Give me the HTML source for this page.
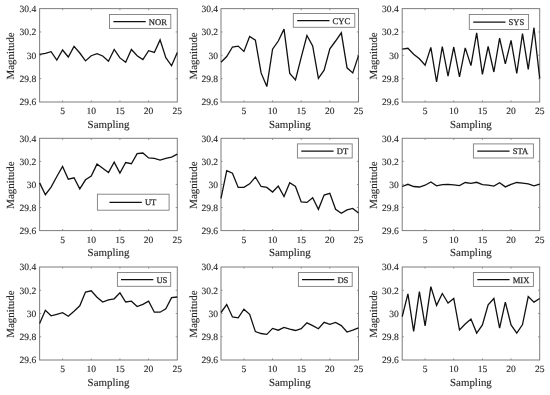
<!DOCTYPE html>
<html><head><meta charset="utf-8"><title>Control chart patterns</title>
<style>html,body{margin:0;padding:0;background:#fff}body{width:550px;height:395px;overflow:hidden}</style>
</head><body>
<svg width="550" height="395" viewBox="0 0 550 395" style="display:block">
<rect width="550" height="395" fill="#fff"/>
<g font-family="'Liberation Serif', 'Times New Roman', serif" fill="#2a2a2a" stroke="#2a2a2a" stroke-width="0.13" text-rendering="geometricPrecision">
<rect x="39.62" y="8.62" width="137.68" height="93.38" fill="none" stroke="#7d7d7d" stroke-width="1"/>
<text x="36.22" y="11.92" font-size="9.55" text-anchor="end">30.4</text>
<text x="36.22" y="35.26" font-size="9.55" text-anchor="end">30.2</text>
<text x="36.22" y="58.61" font-size="9.55" text-anchor="end">30</text>
<text x="36.22" y="81.95" font-size="9.55" text-anchor="end">29.8</text>
<text x="36.22" y="105.30" font-size="9.55" text-anchor="end">29.6</text>
<text x="62.57" y="114.40" font-size="9.55" text-anchor="middle">5</text>
<text x="91.25" y="114.40" font-size="9.55" text-anchor="middle">10</text>
<text x="119.93" y="114.40" font-size="9.55" text-anchor="middle">15</text>
<text x="148.62" y="114.40" font-size="9.55" text-anchor="middle">20</text>
<text x="177.30" y="114.40" font-size="9.55" text-anchor="middle">25</text>
<path d="M39.62 31.96h1.6M177.30 31.96h-1.6M39.62 55.31h1.6M177.30 55.31h-1.6M39.62 78.66h1.6M177.30 78.66h-1.6M62.57 102.00v-1.6M62.57 8.62v1.6M91.25 102.00v-1.6M91.25 8.62v1.6M119.93 102.00v-1.6M119.93 8.62v1.6M148.62 102.00v-1.6M148.62 8.62v1.6" stroke="#7d7d7d" stroke-width="0.8" fill="none"/>
<text x="108.46" y="127.60" font-size="10.9" text-anchor="middle">Sampling</text>
<text transform="translate(13.92 55.91) rotate(-90)" font-size="10.9" text-anchor="middle">Magnitude</text>
<polyline points="39.62,54.30 45.36,53.40 51.09,51.70 56.83,60.00 62.57,50.00 68.30,57.00 74.04,46.40 79.78,53.00 85.51,60.90 91.25,55.70 96.99,53.70 102.72,56.00 108.46,61.30 114.20,49.50 119.93,57.90 125.67,62.20 131.41,49.50 137.14,55.70 142.88,59.60 148.62,50.70 154.35,52.40 160.09,39.90 165.83,57.60 171.56,65.80 177.30,52.60" fill="none" stroke="#111" stroke-width="1.3" stroke-linejoin="miter" stroke-miterlimit="3"/>
<rect x="109.50" y="14.50" width="61.30" height="13.90" fill="#fff" stroke="#7d7d7d" stroke-width="0.9"/>
<path d="M113.40 21.65h32.3" stroke="#111" stroke-width="1.25"/>
<text x="148.80" y="24.55" font-size="8.6" stroke="#2a2a2a" stroke-width="0.25">NOR</text>
<rect x="221.00" y="8.62" width="137.50" height="93.38" fill="none" stroke="#7d7d7d" stroke-width="1"/>
<text x="218.10" y="11.92" font-size="9.55" text-anchor="end">30.4</text>
<text x="218.10" y="35.26" font-size="9.55" text-anchor="end">30.2</text>
<text x="218.10" y="58.61" font-size="9.55" text-anchor="end">30</text>
<text x="218.10" y="81.95" font-size="9.55" text-anchor="end">29.8</text>
<text x="218.10" y="105.30" font-size="9.55" text-anchor="end">29.6</text>
<text x="243.92" y="114.40" font-size="9.55" text-anchor="middle">5</text>
<text x="272.56" y="114.40" font-size="9.55" text-anchor="middle">10</text>
<text x="301.21" y="114.40" font-size="9.55" text-anchor="middle">15</text>
<text x="329.85" y="114.40" font-size="9.55" text-anchor="middle">20</text>
<text x="358.50" y="114.40" font-size="9.55" text-anchor="middle">25</text>
<path d="M221.00 31.96h1.6M358.50 31.96h-1.6M221.00 55.31h1.6M358.50 55.31h-1.6M221.00 78.66h1.6M358.50 78.66h-1.6M243.92 102.00v-1.6M243.92 8.62v1.6M272.56 102.00v-1.6M272.56 8.62v1.6M301.21 102.00v-1.6M301.21 8.62v1.6M329.85 102.00v-1.6M329.85 8.62v1.6" stroke="#7d7d7d" stroke-width="0.8" fill="none"/>
<text x="289.75" y="127.60" font-size="10.9" text-anchor="middle">Sampling</text>
<text transform="translate(196.50 55.91) rotate(-90)" font-size="10.9" text-anchor="middle">Magnitude</text>
<polyline points="221.00,62.30 226.73,56.50 232.46,47.00 238.19,46.10 243.92,51.40 249.65,36.40 255.38,40.10 261.10,72.90 266.83,86.60 272.56,49.20 278.29,41.00 284.02,29.10 289.75,73.40 295.48,79.90 301.21,57.40 306.94,35.50 312.67,45.90 318.40,78.40 324.12,70.20 329.85,48.80 335.58,41.00 341.31,32.80 347.04,67.80 352.77,72.90 358.50,55.60" fill="none" stroke="#111" stroke-width="1.3" stroke-linejoin="miter" stroke-miterlimit="3"/>
<rect x="293.30" y="13.50" width="61.50" height="13.80" fill="#fff" stroke="#7d7d7d" stroke-width="0.9"/>
<path d="M297.20 20.60h32.3" stroke="#111" stroke-width="1.25"/>
<text x="332.60" y="23.50" font-size="8.6" stroke="#2a2a2a" stroke-width="0.25">CYC</text>
<rect x="402.20" y="8.62" width="137.50" height="93.38" fill="none" stroke="#7d7d7d" stroke-width="1"/>
<text x="398.80" y="11.92" font-size="9.55" text-anchor="end">30.4</text>
<text x="398.80" y="35.26" font-size="9.55" text-anchor="end">30.2</text>
<text x="398.80" y="58.61" font-size="9.55" text-anchor="end">30</text>
<text x="398.80" y="81.95" font-size="9.55" text-anchor="end">29.8</text>
<text x="398.80" y="105.30" font-size="9.55" text-anchor="end">29.6</text>
<text x="425.12" y="114.40" font-size="9.55" text-anchor="middle">5</text>
<text x="453.76" y="114.40" font-size="9.55" text-anchor="middle">10</text>
<text x="482.41" y="114.40" font-size="9.55" text-anchor="middle">15</text>
<text x="511.05" y="114.40" font-size="9.55" text-anchor="middle">20</text>
<text x="539.70" y="114.40" font-size="9.55" text-anchor="middle">25</text>
<path d="M402.20 31.96h1.6M539.70 31.96h-1.6M402.20 55.31h1.6M539.70 55.31h-1.6M402.20 78.66h1.6M539.70 78.66h-1.6M425.12 102.00v-1.6M425.12 8.62v1.6M453.76 102.00v-1.6M453.76 8.62v1.6M482.41 102.00v-1.6M482.41 8.62v1.6M511.05 102.00v-1.6M511.05 8.62v1.6" stroke="#7d7d7d" stroke-width="0.8" fill="none"/>
<text x="470.95" y="127.60" font-size="10.9" text-anchor="middle">Sampling</text>
<text transform="translate(376.50 55.91) rotate(-90)" font-size="10.9" text-anchor="middle">Magnitude</text>
<polyline points="402.20,49.20 407.93,48.30 413.66,54.30 419.39,58.70 425.12,65.30 430.85,47.40 436.57,82.00 442.30,46.50 448.03,76.20 453.76,47.00 459.49,76.90 465.22,47.90 470.95,65.60 476.68,32.80 482.41,74.40 488.14,46.50 493.87,72.00 499.60,38.20 505.33,63.80 511.05,40.40 516.78,73.50 522.51,33.70 528.24,69.30 533.97,27.70 539.70,78.40" fill="none" stroke="#111" stroke-width="1.3" stroke-linejoin="miter" stroke-miterlimit="3"/>
<rect x="469.30" y="14.50" width="59.30" height="15.00" fill="#fff" stroke="#7d7d7d" stroke-width="0.9"/>
<path d="M473.20 22.20h32.3" stroke="#111" stroke-width="1.25"/>
<text x="508.60" y="25.10" font-size="8.6" stroke="#2a2a2a" stroke-width="0.25">SYS</text>
<rect x="39.62" y="138.30" width="137.68" height="92.30" fill="none" stroke="#7d7d7d" stroke-width="1"/>
<text x="36.22" y="141.60" font-size="9.55" text-anchor="end">30.4</text>
<text x="36.22" y="164.68" font-size="9.55" text-anchor="end">30.2</text>
<text x="36.22" y="187.75" font-size="9.55" text-anchor="end">30</text>
<text x="36.22" y="210.83" font-size="9.55" text-anchor="end">29.8</text>
<text x="36.22" y="233.90" font-size="9.55" text-anchor="end">29.6</text>
<text x="62.57" y="243.00" font-size="9.55" text-anchor="middle">5</text>
<text x="91.25" y="243.00" font-size="9.55" text-anchor="middle">10</text>
<text x="119.93" y="243.00" font-size="9.55" text-anchor="middle">15</text>
<text x="148.62" y="243.00" font-size="9.55" text-anchor="middle">20</text>
<text x="177.30" y="243.00" font-size="9.55" text-anchor="middle">25</text>
<path d="M39.62 161.38h1.6M177.30 161.38h-1.6M39.62 184.45h1.6M177.30 184.45h-1.6M39.62 207.53h1.6M177.30 207.53h-1.6M62.57 230.60v-1.6M62.57 138.30v1.6M91.25 230.60v-1.6M91.25 138.30v1.6M119.93 230.60v-1.6M119.93 138.30v1.6M148.62 230.60v-1.6M148.62 138.30v1.6" stroke="#7d7d7d" stroke-width="0.8" fill="none"/>
<text x="108.46" y="256.20" font-size="10.9" text-anchor="middle">Sampling</text>
<text transform="translate(13.92 185.05) rotate(-90)" font-size="10.9" text-anchor="middle">Magnitude</text>
<polyline points="39.62,182.90 45.36,194.70 51.09,187.10 56.83,176.50 62.57,166.50 68.30,179.20 74.04,177.80 79.78,188.90 85.51,179.80 91.25,176.10 96.99,164.10 102.72,168.30 108.46,172.50 114.20,162.10 119.93,173.00 125.67,162.50 131.41,163.70 137.14,153.70 142.88,153.00 148.62,157.90 154.35,158.40 160.09,160.10 165.83,158.30 171.56,157.20 177.30,154.20" fill="none" stroke="#111" stroke-width="1.3" stroke-linejoin="miter" stroke-miterlimit="3"/>
<rect x="97.40" y="194.20" width="71.70" height="16.00" fill="#fff" stroke="#7d7d7d" stroke-width="0.9"/>
<path d="M109.50 202.40h32.3" stroke="#111" stroke-width="1.25"/>
<text x="144.90" y="205.30" font-size="8.6" stroke="#2a2a2a" stroke-width="0.25">UT</text>
<rect x="221.00" y="138.30" width="137.50" height="92.30" fill="none" stroke="#7d7d7d" stroke-width="1"/>
<text x="218.10" y="141.60" font-size="9.55" text-anchor="end">30.4</text>
<text x="218.10" y="164.68" font-size="9.55" text-anchor="end">30.2</text>
<text x="218.10" y="187.75" font-size="9.55" text-anchor="end">30</text>
<text x="218.10" y="210.83" font-size="9.55" text-anchor="end">29.8</text>
<text x="218.10" y="233.90" font-size="9.55" text-anchor="end">29.6</text>
<text x="243.92" y="243.00" font-size="9.55" text-anchor="middle">5</text>
<text x="272.56" y="243.00" font-size="9.55" text-anchor="middle">10</text>
<text x="301.21" y="243.00" font-size="9.55" text-anchor="middle">15</text>
<text x="329.85" y="243.00" font-size="9.55" text-anchor="middle">20</text>
<text x="358.50" y="243.00" font-size="9.55" text-anchor="middle">25</text>
<path d="M221.00 161.38h1.6M358.50 161.38h-1.6M221.00 184.45h1.6M358.50 184.45h-1.6M221.00 207.53h1.6M358.50 207.53h-1.6M243.92 230.60v-1.6M243.92 138.30v1.6M272.56 230.60v-1.6M272.56 138.30v1.6M301.21 230.60v-1.6M301.21 138.30v1.6M329.85 230.60v-1.6M329.85 138.30v1.6" stroke="#7d7d7d" stroke-width="0.8" fill="none"/>
<text x="289.75" y="256.20" font-size="10.9" text-anchor="middle">Sampling</text>
<text transform="translate(196.50 185.05) rotate(-90)" font-size="10.9" text-anchor="middle">Magnitude</text>
<polyline points="221.00,198.40 226.73,170.60 232.46,173.20 238.19,187.40 243.92,187.40 249.65,183.80 255.38,177.00 261.10,186.50 266.83,187.40 272.56,192.00 278.29,186.10 284.02,196.50 289.75,182.80 295.48,186.50 301.21,202.00 306.94,202.40 312.67,197.80 318.40,209.30 324.12,195.10 329.85,193.40 335.58,209.30 341.31,213.30 347.04,209.90 352.77,208.40 358.50,213.00" fill="none" stroke="#111" stroke-width="1.3" stroke-linejoin="miter" stroke-miterlimit="3"/>
<rect x="297.40" y="143.90" width="54.80" height="14.10" fill="#fff" stroke="#7d7d7d" stroke-width="0.9"/>
<path d="M301.30 151.15h32.3" stroke="#111" stroke-width="1.25"/>
<text x="336.70" y="154.05" font-size="8.6" stroke="#2a2a2a" stroke-width="0.25">DT</text>
<rect x="402.20" y="138.30" width="137.50" height="92.30" fill="none" stroke="#7d7d7d" stroke-width="1"/>
<text x="398.80" y="141.60" font-size="9.55" text-anchor="end">30.4</text>
<text x="398.80" y="164.68" font-size="9.55" text-anchor="end">30.2</text>
<text x="398.80" y="187.75" font-size="9.55" text-anchor="end">30</text>
<text x="398.80" y="210.83" font-size="9.55" text-anchor="end">29.8</text>
<text x="398.80" y="233.90" font-size="9.55" text-anchor="end">29.6</text>
<text x="425.12" y="243.00" font-size="9.55" text-anchor="middle">5</text>
<text x="453.76" y="243.00" font-size="9.55" text-anchor="middle">10</text>
<text x="482.41" y="243.00" font-size="9.55" text-anchor="middle">15</text>
<text x="511.05" y="243.00" font-size="9.55" text-anchor="middle">20</text>
<text x="539.70" y="243.00" font-size="9.55" text-anchor="middle">25</text>
<path d="M402.20 161.38h1.6M539.70 161.38h-1.6M402.20 184.45h1.6M539.70 184.45h-1.6M402.20 207.53h1.6M539.70 207.53h-1.6M425.12 230.60v-1.6M425.12 138.30v1.6M453.76 230.60v-1.6M453.76 138.30v1.6M482.41 230.60v-1.6M482.41 138.30v1.6M511.05 230.60v-1.6M511.05 138.30v1.6" stroke="#7d7d7d" stroke-width="0.8" fill="none"/>
<text x="470.95" y="256.20" font-size="10.9" text-anchor="middle">Sampling</text>
<text transform="translate(376.50 185.05) rotate(-90)" font-size="10.9" text-anchor="middle">Magnitude</text>
<polyline points="402.20,186.50 407.93,184.30 413.66,186.50 419.39,187.00 425.12,185.20 430.85,181.90 436.57,185.90 442.30,184.70 448.03,184.30 453.76,184.90 459.49,185.60 465.22,182.50 470.95,183.40 476.68,182.30 482.41,184.70 488.14,185.20 493.87,186.10 499.60,182.80 505.33,186.90 511.05,184.30 516.78,182.50 522.51,183.20 528.24,183.90 533.97,185.90 539.70,184.10" fill="none" stroke="#111" stroke-width="1.3" stroke-linejoin="miter" stroke-miterlimit="3"/>
<rect x="473.40" y="143.90" width="60.00" height="14.10" fill="#fff" stroke="#7d7d7d" stroke-width="0.9"/>
<path d="M477.30 151.15h32.3" stroke="#111" stroke-width="1.25"/>
<text x="512.70" y="154.05" font-size="8.6" stroke="#2a2a2a" stroke-width="0.25">STA</text>
<rect x="39.62" y="267.00" width="137.68" height="93.00" fill="none" stroke="#7d7d7d" stroke-width="1"/>
<text x="36.22" y="270.30" font-size="9.55" text-anchor="end">30.4</text>
<text x="36.22" y="293.55" font-size="9.55" text-anchor="end">30.2</text>
<text x="36.22" y="316.80" font-size="9.55" text-anchor="end">30</text>
<text x="36.22" y="340.05" font-size="9.55" text-anchor="end">29.8</text>
<text x="36.22" y="363.30" font-size="9.55" text-anchor="end">29.6</text>
<text x="62.57" y="372.40" font-size="9.55" text-anchor="middle">5</text>
<text x="91.25" y="372.40" font-size="9.55" text-anchor="middle">10</text>
<text x="119.93" y="372.40" font-size="9.55" text-anchor="middle">15</text>
<text x="148.62" y="372.40" font-size="9.55" text-anchor="middle">20</text>
<text x="177.30" y="372.40" font-size="9.55" text-anchor="middle">25</text>
<path d="M39.62 290.25h1.6M177.30 290.25h-1.6M39.62 313.50h1.6M177.30 313.50h-1.6M39.62 336.75h1.6M177.30 336.75h-1.6M62.57 360.00v-1.6M62.57 267.00v1.6M91.25 360.00v-1.6M91.25 267.00v1.6M119.93 360.00v-1.6M119.93 267.00v1.6M148.62 360.00v-1.6M148.62 267.00v1.6" stroke="#7d7d7d" stroke-width="0.8" fill="none"/>
<text x="108.46" y="385.60" font-size="10.9" text-anchor="middle">Sampling</text>
<text transform="translate(13.92 314.10) rotate(-90)" font-size="10.9" text-anchor="middle">Magnitude</text>
<polyline points="39.62,323.50 45.36,310.30 51.09,315.80 56.83,314.30 62.57,312.70 68.30,316.20 74.04,311.20 79.78,305.80 85.51,292.10 91.25,290.80 96.99,297.20 102.72,302.10 108.46,299.80 114.20,298.80 119.93,292.80 125.67,302.00 131.41,301.20 137.14,306.50 142.88,304.30 148.62,301.20 154.35,312.20 160.09,312.20 165.83,308.90 171.56,297.60 177.30,297.00" fill="none" stroke="#111" stroke-width="1.3" stroke-linejoin="miter" stroke-miterlimit="3"/>
<rect x="117.40" y="272.50" width="53.30" height="13.80" fill="#fff" stroke="#7d7d7d" stroke-width="0.9"/>
<path d="M121.00 279.60h32.3" stroke="#111" stroke-width="1.25"/>
<text x="156.40" y="282.50" font-size="8.6" stroke="#2a2a2a" stroke-width="0.25">US</text>
<rect x="221.00" y="267.00" width="137.50" height="93.00" fill="none" stroke="#7d7d7d" stroke-width="1"/>
<text x="218.10" y="270.30" font-size="9.55" text-anchor="end">30.4</text>
<text x="218.10" y="293.55" font-size="9.55" text-anchor="end">30.2</text>
<text x="218.10" y="316.80" font-size="9.55" text-anchor="end">30</text>
<text x="218.10" y="340.05" font-size="9.55" text-anchor="end">29.8</text>
<text x="218.10" y="363.30" font-size="9.55" text-anchor="end">29.6</text>
<text x="243.92" y="372.40" font-size="9.55" text-anchor="middle">5</text>
<text x="272.56" y="372.40" font-size="9.55" text-anchor="middle">10</text>
<text x="301.21" y="372.40" font-size="9.55" text-anchor="middle">15</text>
<text x="329.85" y="372.40" font-size="9.55" text-anchor="middle">20</text>
<text x="358.50" y="372.40" font-size="9.55" text-anchor="middle">25</text>
<path d="M221.00 290.25h1.6M358.50 290.25h-1.6M221.00 313.50h1.6M358.50 313.50h-1.6M221.00 336.75h1.6M358.50 336.75h-1.6M243.92 360.00v-1.6M243.92 267.00v1.6M272.56 360.00v-1.6M272.56 267.00v1.6M301.21 360.00v-1.6M301.21 267.00v1.6M329.85 360.00v-1.6M329.85 267.00v1.6" stroke="#7d7d7d" stroke-width="0.8" fill="none"/>
<text x="289.75" y="385.60" font-size="10.9" text-anchor="middle">Sampling</text>
<text transform="translate(196.50 314.10) rotate(-90)" font-size="10.9" text-anchor="middle">Magnitude</text>
<polyline points="221.00,312.50 226.73,304.60 232.46,317.00 238.19,317.80 243.92,309.20 249.65,314.30 255.38,331.60 261.10,333.50 266.83,334.40 272.56,328.40 278.29,330.20 284.02,327.40 289.75,329.10 295.48,330.50 301.21,328.70 306.94,322.90 312.67,325.60 318.40,328.70 324.12,322.30 329.85,324.30 335.58,322.50 341.31,325.60 347.04,332.00 352.77,330.20 358.50,327.80" fill="none" stroke="#111" stroke-width="1.3" stroke-linejoin="miter" stroke-miterlimit="3"/>
<rect x="298.40" y="272.50" width="53.80" height="13.90" fill="#fff" stroke="#7d7d7d" stroke-width="0.9"/>
<path d="M302.00 279.65h32.3" stroke="#111" stroke-width="1.25"/>
<text x="337.40" y="282.55" font-size="8.6" stroke="#2a2a2a" stroke-width="0.25">DS</text>
<rect x="402.20" y="267.00" width="137.50" height="93.00" fill="none" stroke="#7d7d7d" stroke-width="1"/>
<text x="398.80" y="270.30" font-size="9.55" text-anchor="end">30.4</text>
<text x="398.80" y="293.55" font-size="9.55" text-anchor="end">30.2</text>
<text x="398.80" y="316.80" font-size="9.55" text-anchor="end">30</text>
<text x="398.80" y="340.05" font-size="9.55" text-anchor="end">29.8</text>
<text x="398.80" y="363.30" font-size="9.55" text-anchor="end">29.6</text>
<text x="425.12" y="372.40" font-size="9.55" text-anchor="middle">5</text>
<text x="453.76" y="372.40" font-size="9.55" text-anchor="middle">10</text>
<text x="482.41" y="372.40" font-size="9.55" text-anchor="middle">15</text>
<text x="511.05" y="372.40" font-size="9.55" text-anchor="middle">20</text>
<text x="539.70" y="372.40" font-size="9.55" text-anchor="middle">25</text>
<path d="M402.20 290.25h1.6M539.70 290.25h-1.6M402.20 313.50h1.6M539.70 313.50h-1.6M402.20 336.75h1.6M539.70 336.75h-1.6M425.12 360.00v-1.6M425.12 267.00v1.6M453.76 360.00v-1.6M453.76 267.00v1.6M482.41 360.00v-1.6M482.41 267.00v1.6M511.05 360.00v-1.6M511.05 267.00v1.6" stroke="#7d7d7d" stroke-width="0.8" fill="none"/>
<text x="470.95" y="385.60" font-size="10.9" text-anchor="middle">Sampling</text>
<text transform="translate(376.50 314.10) rotate(-90)" font-size="10.9" text-anchor="middle">Magnitude</text>
<polyline points="402.20,316.70 407.93,293.90 413.66,331.30 419.39,291.70 425.12,325.80 430.85,286.60 436.57,305.40 442.30,293.50 448.03,303.00 453.76,298.50 459.49,330.00 465.22,324.00 470.95,319.10 476.68,333.10 482.41,324.90 488.14,304.80 493.87,298.50 499.60,328.20 505.33,302.10 511.05,324.90 516.78,333.10 522.51,324.60 528.24,296.60 533.97,302.10 539.70,298.50" fill="none" stroke="#111" stroke-width="1.3" stroke-linejoin="miter" stroke-miterlimit="3"/>
<rect x="473.40" y="272.50" width="60.00" height="13.90" fill="#fff" stroke="#7d7d7d" stroke-width="0.9"/>
<path d="M477.30 279.65h32.3" stroke="#111" stroke-width="1.25"/>
<text x="512.70" y="282.55" font-size="8.6" stroke="#2a2a2a" stroke-width="0.25">MIX</text>
</g></svg>
</body></html>
